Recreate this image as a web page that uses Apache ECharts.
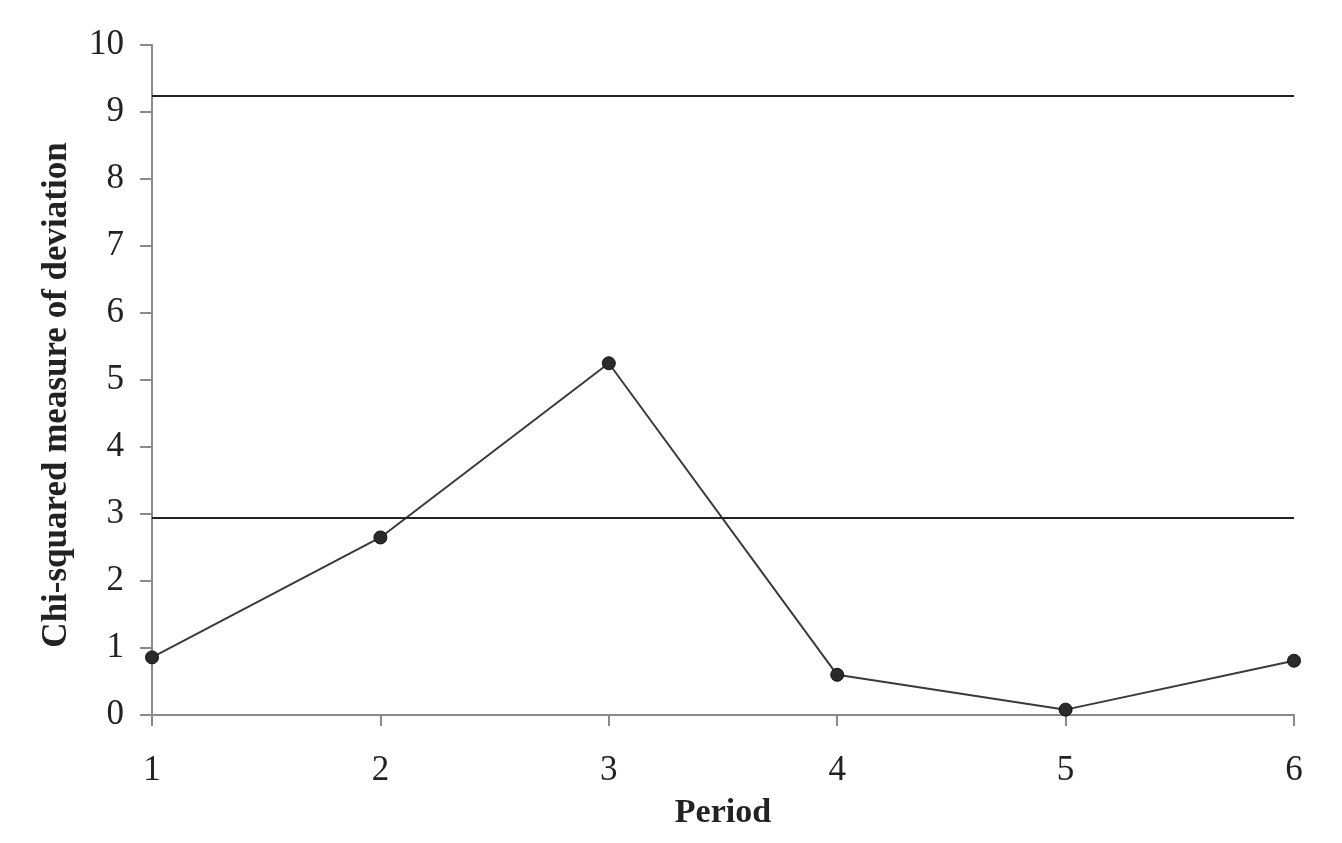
<!DOCTYPE html>
<html>
<head>
<meta charset="utf-8">
<script src="https://cdn.jsdelivr.net/npm/echarts@6/dist/echarts.min.js"></script>
<style>
html,body{margin:0;padding:0;background:#fff;}
#chart{width:1342px;height:843px;}
</style>
</head>
<body>
<div id="chart"></div>
<script>
const periods = [1, 2, 3, 4, 5, 6];
const chiValues = [0.86, 2.65, 5.25, 0.60, 0.08, 0.81];
const thresholds = [2.95, 9.24];
const yTicks = [0, 1, 2, 3, 4, 5, 6, 7, 8, 9, 10];

const chart = echarts.init(document.getElementById('chart'));
const serif = '"Liberation Serif", "Times New Roman", serif';
chart.setOption({
  backgroundColor: '#ffffff',
  animation: false,
  grid: { left: 152, right: 48, top: 45, bottom: 128 },
  xAxis: {
    type: 'value', min: 1, max: 6, interval: 1,
    name: 'Period', nameLocation: 'middle', nameGap: 81,
    nameTextStyle: { fontFamily: serif, fontWeight: 'bold', fontSize: 34, color: '#222' },
    axisLine: { show: true, lineStyle: { color: '#8a8a8a', width: 2 } },
    axisTick: { show: true, inside: false, length: 11, lineStyle: { color: '#8a8a8a', width: 2 } },
    axisLabel: { fontFamily: serif, fontSize: 35, color: '#222', margin: 38 },
    splitLine: { show: false }
  },
  yAxis: {
    type: 'value', min: yTicks[0], max: yTicks[yTicks.length - 1], interval: 1,
    name: 'Chi-squared measure of deviation', nameLocation: 'middle', nameGap: 78,
    nameTextStyle: { fontFamily: serif, fontWeight: 'bold', fontSize: 35, color: '#222', padding: [0, 30, 0, 0] },
    axisLine: { show: true, lineStyle: { color: '#8a8a8a', width: 2 } },
    axisTick: { show: true, inside: false, length: 12, lineStyle: { color: '#8a8a8a', width: 2 } },
    axisLabel: { fontFamily: serif, fontSize: 35, color: '#222', margin: 28 },
    splitLine: { show: false }
  },
  series: [{
    type: 'line',
    data: periods.map((p, i) => [p, chiValues[i]]),
    symbol: 'circle', symbolSize: 13,
    lineStyle: { color: '#3a3a3a', width: 2 },
    itemStyle: { color: '#2a2a2a', borderColor: '#111', borderWidth: 1 },
    markLine: {
      silent: true, symbol: 'none',
      label: { show: false },
      lineStyle: { color: '#222', width: 2, type: 'solid' },
      data: thresholds.map(t => ({ yAxis: t }))
    },
    z: 3
  }]
});
</script>
</body>
</html>
